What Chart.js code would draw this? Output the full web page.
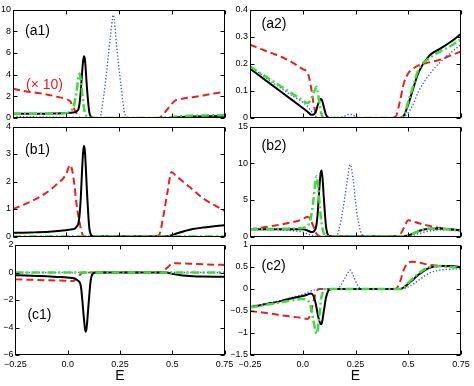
<!DOCTYPE html>
<html>
<head>
<meta charset="utf-8">
<script src="https://cdn.jsdelivr.net/npm/chart.js@4.4.1/dist/chart.umd.min.js"></script>
<style>
  html, body { margin: 0; padding: 0; background: #fff; }
  #wrap { position: relative; width: 474px; height: 386px; overflow: hidden; }
  #wrap canvas { position: absolute; top: 0; left: 0; }
</style>
</head>
<body>
<div id="wrap">
  <canvas id="a1" width="474" height="386"></canvas>
  <canvas id="a2" width="474" height="386"></canvas>
  <canvas id="b1" width="474" height="386"></canvas>
  <canvas id="b2" width="474" height="386"></canvas>
  <canvas id="c1" width="474" height="386"></canvas>
  <canvas id="c2" width="474" height="386"></canvas>
</div>
<script>
// energy grid shared by every curve
var E = [-0.25, -0.2, -0.15, -0.1, -0.05, 0,
         0.02, 0.03, 0.04, 0.05, 0.06, 0.065, 0.07,
         0.08, 0.085, 0.09, 0.1, 0.11, 0.12, 0.13, 0.14,
         0.16, 0.18, 0.2, 0.21, 0.225, 0.24, 0.25, 0.26, 0.28,
         0.3, 0.35, 0.4, 0.44, 0.46, 0.48,
         0.5, 0.52, 0.55, 0.6, 0.65, 0.7, 0.75];

var xTicks = [-0.25, 0, 0.25, 0.5, 0.75];
var xLabels = ['\u22120.25', '0.0', '0.25', '0.5', '0.75'];

//(a1)####################################################
var a1Black = [0.4, 0.4, 0.4, 0.4, 0.42, 0.45,
  0.48, 0.5, 0.52, 0.6, 0.85, 1.4, 2.4,
  5.0, 5.7, 5.4, 2.7, 0.64, 0.07, 0.01, 0,
  0, 0, 0, 0, 0, 0, 0, 0, 0,
  0, 0, 0, 0, 0, 0.01,
  0.04, 0.07, 0.1, 0.13, 0.15, 0.17, 0.18];
var a1Green = [0.4, 0.4, 0.4, 0.4, 0.4, 0.45,
  0.6, 0.8, 1.3, 2.4, 3.8, 4.1, 3.6,
  1.8, 1.0, 0.5, 0.1, 0.02, 0, 0, 0,
  0, 0, 0, 0, 0, 0, 0, 0, 0,
  0, 0, 0, 0, 0.02, 0.05,
  0.1, 0.14, 0.18, 0.22, 0.24, 0.25, 0.26];
var a1Blue = [0.15, 0.13, 0.11, 0.09, 0.07, 0.06,
  0.05, 0.05, 0.04, 0.03, 0.02, 0.02, 0.01,
  0.01, 0.01, 0.01, 0, 0, 0, 0, 0,
  0.05, 2.2, 5.6, 7.4, 9.5, 6.6, 4.8, 3.1, 0.3,
  0, 0, 0, 0, 0, 0,
  0.02, 0.04, 0.07, 0.12, 0.16, 0.19, 0.21];
var a1Red = [2.7, 2.5, 2.35, 2.2, 2.0, 1.75,
  1.55, 1.2, 0.8, 0.45, 0.15, 0.05, 0,
  0, 0, 0, 0, 0, 0, 0, 0,
  0, 0, 0, 0, 0, 0, 0, 0, 0,
  0, 0, 0, 0, 0.35, 0.8,
  1.3, 1.65, 1.78, 1.92, 2.08, 2.25, 2.4];

//(a2)####################################################
var a2Black = [0.182, 0.153, 0.124, 0.095, 0.066, 0.037,
  0.025, 0.018, 0.012, 0.012, 0.02, 0.03, 0.045,
  0.065, 0.07, 0.068, 0.04, 0.012, 0.002, 0, 0,
  0, 0, 0, 0, 0, 0, 0, 0, 0,
  0, 0, 0, 0, 0, 0.01,
  0.05, 0.1, 0.17, 0.23, 0.255, 0.28, 0.31];
var a2Green = [0.19, 0.165, 0.14, 0.115, 0.09, 0.065,
  0.055, 0.058, 0.07, 0.09, 0.108, 0.115, 0.1,
  0.05, 0.025, 0.012, 0, 0, 0, 0, 0,
  0, 0, 0, 0, 0, 0, 0, 0, 0,
  0, 0, 0, 0, 0, 0.01,
  0.06, 0.11, 0.18, 0.22, 0.245, 0.265, 0.29];
var a2Blue = [0.19, 0.162, 0.135, 0.108, 0.082, 0.058,
  0.045, 0.035, 0.025, 0.015, 0.008, 0.005, 0.003,
  0, 0, 0, 0, 0, 0, 0, 0,
  0, 0.003, 0.008, 0.012, 0.014, 0.01, 0.005, 0.002, 0,
  0, 0, 0, 0, 0, 0.005,
  0.02, 0.045, 0.1, 0.16, 0.205, 0.24, 0.27];
var a2Red = [0.27, 0.255, 0.24, 0.225, 0.205, 0.18,
  0.17, 0.15, 0.11, 0.06, 0.02, 0.005, 0,
  0, 0, 0, 0, 0, 0, 0, 0,
  0, 0, 0, 0, 0, 0, 0, 0, 0,
  0, 0, 0, 0.005, 0.06, 0.13,
  0.165, 0.18, 0.195, 0.205, 0.215, 0.23, 0.245];

//(b1)####################################################
var b1Black = [0.14, 0.14, 0.15, 0.16, 0.19, 0.23,
  0.25, 0.26, 0.28, 0.35, 0.5, 0.8, 1.35,
  2.9, 3.3, 3.1, 1.6, 0.37, 0.05, 0.01, 0,
  0, 0, 0, 0, 0, 0, 0, 0, 0,
  0, 0, 0, 0, 0, 0.01,
  0.05, 0.1, 0.17, 0.27, 0.33, 0.37, 0.41];
var b1Green = [0, 0, 0, 0, 0, 0,
  0, 0, 0, 0, 0, 0, 0,
  0, 0, 0, 0, 0, 0, 0, 0,
  0, 0, 0, 0, 0, 0, 0, 0, 0,
  0, 0, 0, 0, 0, 0,
  0, 0, 0, 0, 0, 0, 0];
var b1Blue = [0, 0, 0, 0, 0, 0,
  0, 0, 0, 0, 0, 0, 0,
  0, 0, 0, 0, 0, 0, 0, 0,
  0, 0, 0, 0, 0, 0, 0, 0, 0,
  0, 0, 0, 0, 0, 0,
  0, 0, 0, 0, 0, 0, 0];
var b1Red = [1.0, 1.15, 1.33, 1.55, 1.85, 2.25,
  2.6, 2.4, 1.9, 1.2, 0.7, 0.5, 0.3,
  0.05, 0, 0, 0, 0, 0, 0, 0,
  0, 0, 0, 0, 0, 0, 0, 0, 0,
  0, 0, 0, 0.05, 0.7, 1.6,
  2.35, 2.21, 2.02, 1.7, 1.38, 1.15, 0.93];

//(b2)####################################################
var b2Black = [1.0, 1.0, 1.0, 1.0, 1.0, 0.98,
  0.85, 0.72, 0.62, 0.65, 1.0, 1.6, 2.9,
  7.1, 8.7, 9.0, 5.2, 1.44, 0.19, 0.02, 0,
  0, 0, 0, 0, 0, 0, 0, 0, 0,
  0, 0, 0, 0, 0, 0.03,
  0.15, 0.35, 0.75, 1.05, 1.1, 1.0, 0.85];
var b2Green = [1.0, 1.0, 1.02, 1.05, 1.1, 1.15,
  1.4, 1.8, 2.8, 4.8, 7.4, 8.2, 7.6,
  4.5, 2.8, 1.6, 0.4, 0.08, 0.01, 0, 0,
  0, 0, 0, 0, 0, 0, 0, 0, 0,
  0, 0, 0, 0, 0, 0.03,
  0.15, 0.35, 0.7, 1.05, 1.05, 0.95, 0.75];
var b2Blue = [0.95, 0.95, 0.95, 0.9, 0.8, 0.6,
  0.4, 0.3, 0.2, 0.12, 0.06, 0.04, 0.03,
  0.02, 0.01, 0.01, 0, 0, 0, 0, 0,
  0.1, 2.0, 5.5, 7.5, 9.8, 7.5, 4.8, 2.6, 0.3,
  0, 0, 0, 0, 0, 0.02,
  0.05, 0.15, 0.4, 0.75, 0.9, 0.92, 0.9];
var b2Red = [1.0, 1.2, 1.4, 1.65, 1.95, 2.35,
  2.65, 2.6, 2.1, 1.4, 0.7, 0.4, 0.2,
  0.02, 0, 0, 0, 0, 0, 0, 0,
  0, 0, 0, 0, 0, 0, 0, 0, 0,
  0, 0, 0, 0, 0.2, 1.2,
  2.2, 2.1, 1.8, 1.45, 1.15, 0.95, 0.8];

//(c1)####################################################
var c1Black = [-0.2, -0.22, -0.25, -0.28, -0.32, -0.36,
  -0.4, -0.42, -0.5, -0.6, -0.8, -1.2, -2.0,
  -3.7, -4.3, -4.1, -2.3, -0.6, -0.08, -0.01, 0,
  0, 0, 0, 0, 0, 0, 0, 0, 0,
  0, 0, 0, 0, 0, -0.02,
  -0.1, -0.15, -0.22, -0.27, -0.29, -0.3, -0.3];
var c1Green = [0, 0, 0, 0, 0, 0,
  0, 0, 0, 0, 0, 0, 0,
  0, 0, 0, 0, 0, 0, 0, 0,
  0, 0, 0, 0, 0, 0, 0, 0, 0,
  0, 0, 0, 0, 0, 0,
  0, 0, 0, 0, 0, 0, 0];
var c1Blue = [0, 0, 0, 0, 0, 0,
  0, 0, 0, 0, 0, 0, 0,
  0, 0, 0, 0, 0, 0, 0, 0,
  0, 0, 0, 0, 0, 0, 0, 0, 0,
  0, 0, 0, 0, 0, 0,
  0, 0, 0, 0, 0, 0, 0];
var c1Red = [-0.5, -0.52, -0.54, -0.56, -0.58, -0.6,
  -0.62, -0.6, -0.45, -0.3, -0.15, -0.08, -0.03,
  0, 0, 0, 0, 0, 0, 0, 0,
  0, 0, 0, 0, 0, 0, 0, 0, 0,
  0, 0, 0, 0, 0.15, 0.4,
  0.65, 0.67, 0.66, 0.63, 0.6, 0.57, 0.55];

//(c2)####################################################
var c2Black = [-0.41, -0.37, -0.32, -0.27, -0.21, -0.16,
  -0.13, -0.11, -0.1, -0.15, -0.3, -0.42, -0.55,
  -0.75, -0.8, -0.78, -0.5, -0.2, -0.05, -0.01, 0,
  0, 0, 0, 0, 0, 0, 0, 0, 0,
  0, 0, 0, 0, 0, 0.04,
  0.12, 0.2, 0.33, 0.48, 0.52, 0.52, 0.5];
var c2Green = [-0.42, -0.38, -0.34, -0.3, -0.26, -0.23,
  -0.25, -0.3, -0.45, -0.7, -0.95, -1.02, -0.95,
  -0.55, -0.3, -0.15, -0.03, 0, 0, 0, 0,
  0, 0, 0, 0, 0, 0, 0, 0, 0,
  0, 0, 0, 0, 0, 0.04,
  0.14, 0.23, 0.36, 0.5, 0.52, 0.5, 0.48];
var c2Blue = [-0.4, -0.36, -0.31, -0.26, -0.19, -0.12,
  -0.08, -0.06, -0.04, -0.03, -0.02, -0.02, -0.01,
  0, 0, 0, 0, 0, 0, 0, 0,
  0, 0.08, 0.25, 0.33, 0.43, 0.3, 0.18, 0.08, 0,
  0, 0, 0, 0, 0, 0.01,
  0.05, 0.1, 0.2, 0.36, 0.43, 0.45, 0.46];
var c2Red = [-0.5, -0.53, -0.56, -0.6, -0.63, -0.66,
  -0.68, -0.65, -0.5, -0.3, -0.12, -0.06, -0.02,
  0, 0, 0, 0, 0, 0, 0, 0,
  0, 0, 0, 0, 0, 0, 0, 0, 0,
  0, 0, 0, 0, 0.15, 0.45,
  0.6, 0.62, 0.6, 0.55, 0.53, 0.51, 0.5];

var FONT = "'Liberation Sans', Arial, Helvetica, sans-serif";

var styles = {
  black: { color: '#000000', width: 2, dash: [] },
  red:   { color: '#e82020', width: 2, dash: [7, 4] },
  green: { color: '#3ddc3d', width: 2.5, dash: [8, 3, 2, 3] },
  blue:  { color: '#4a50e0', width: 1.4, dash: [1.3, 2] }
};

function line(ys, kind) {
  var s = styles[kind];
  return {
    data: E.map(function(e, i) { return { x: e, y: ys[i] }; }),
    borderColor: s.color,
    borderWidth: s.width,
    borderDash: s.dash,
    pointRadius: 0,
    fill: false,
    cubicInterpolationMode: 'monotone'
  };
}

function fmt(v) {
  return String(v).replace('-', '\u2212');
}

var panelById = {};

// box + inward ticks on all four sides, plus panel texts
var framePlugin = {
  id: 'frame',
  afterDatasetsDraw: function(chart) {
    var p = panelById[chart.canvas.id];
    if (!p) return;
    var ctx = chart.ctx, a = chart.chartArea;
    var xs = chart.scales.x, ys = chart.scales.y;
    var L = Math.round(a.left) + 0.5, R = Math.round(a.right) - 0.5;
    var T = Math.round(a.top) + 0.5, B = Math.round(a.bottom) - 0.5;
    ctx.save();
    ctx.strokeStyle = '#000';
    ctx.lineWidth = 1;
    ctx.strokeRect(L, T, R - L, B - T);
    ctx.beginPath();
    xTicks.forEach(function(v) {
      var px = Math.round(xs.getPixelForValue(v)) + 0.5;
      ctx.moveTo(px, B); ctx.lineTo(px, B - 4);
      ctx.moveTo(px, T); ctx.lineTo(px, T + 4);
    });
    p.yTicks.forEach(function(v) {
      var py = Math.round(ys.getPixelForValue(v)) + 0.5;
      ctx.moveTo(L, py); ctx.lineTo(L + 4, py);
      ctx.moveTo(R, py); ctx.lineTo(R - 4, py);
    });
    ctx.stroke();
    ctx.font = '14px ' + FONT;
    ctx.textBaseline = 'middle';
    ctx.fillStyle = '#000';
    ctx.fillText(p.label, a.left + p.lx, p.ly);
    if (p.note) {
      ctx.fillStyle = '#e82020';
      ctx.fillText(p.note, a.left + p.nx, p.ny);
    }
    ctx.restore();
  }
};

// col 0 = left column (plot x 13..224.5), col 1 = right column (plot x 250..461)
var panels = [
  { id: 'a1', col: 0, label: '(a1)', lx: 12, ly: 31.5, top: 9.5, bottom: 268, showX: false,
    yMin: 0, yMax: 10, yTicks: [0, 2, 4, 6, 8, 10],
    note: '(\u00d7 10)', nx: 13, ny: 85,
    black: a1Black, green: a1Green, blue: a1Blue, red: a1Red },
  { id: 'a2', col: 1, label: '(a2)', lx: 11.5, ly: 24.5, top: 9.5, bottom: 268, showX: false,
    yMin: 0, yMax: 0.4, yTicks: [0, 0.1, 0.2, 0.3, 0.4],
    black: a2Black, green: a2Green, blue: a2Blue, red: a2Red },
  { id: 'b1', col: 0, label: '(b1)', lx: 12, ly: 150, top: 126.5, bottom: 149.5, showX: false,
    yMin: 0, yMax: 4, yTicks: [0, 1, 2, 3, 4],
    black: b1Black, green: b1Green, blue: b1Blue, red: b1Red },
  { id: 'b2', col: 1, label: '(b2)', lx: 11.5, ly: 146, top: 126.5, bottom: 149.5, showX: false,
    yMin: 0, yMax: 15, yTicks: [0, 5, 10, 15],
    black: b2Black, green: b2Green, blue: b2Blue, red: b2Red },
  { id: 'c1', col: 0, label: '(c1)', lx: 12, ly: 315, top: 245, bottom: 0, showX: true,
    yMin: -6, yMax: 2, yTicks: [-6, -4, -2, 0, 2],
    black: c1Black, green: c1Green, blue: c1Blue, red: c1Red },
  { id: 'c2', col: 1, label: '(c2)', lx: 11.5, ly: 266, top: 245, bottom: 0, showX: true,
    yMin: -1.5, yMax: 1, yTicks: [-1.5, -1, -0.5, 0, 0.5, 1],
    black: c2Black, green: c2Green, blue: c2Blue, red: c2Red }
];

function makePanel(p) {
  panelById[p.id] = p;
  // y axis box is 13px wide on the left, 30px on the right so its labels are not clipped
  var yW = p.col ? 30 : 13;
  var padL = p.col ? 250 - yW : 0;
  var padR = p.col ? 13 : 249.5;
  new Chart(document.getElementById(p.id), {
    type: 'line',
    data: {
      // first dataset is painted last (on top)
      datasets: [line(p.green, 'green'), line(p.black, 'black'), line(p.blue, 'blue'), line(p.red, 'red')]
    },
    options: {
      responsive: false,
      animation: false,
      devicePixelRatio: 1,
      layout: { autoPadding: false, padding: { left: padL, right: padR, top: p.top, bottom: p.bottom } },
      plugins: { legend: { display: false }, tooltip: { enabled: false } },
      scales: {
        x: {
          type: 'linear', min: -0.25, max: 0.75,
          grid: { display: false, drawTicks: false, tickLength: 0 },
          border: { display: false },
          afterBuildTicks: function(s) { s.ticks = xTicks.map(function(v) { return { value: v }; }); },
          afterFit: function(s) { s.height = p.showX ? 31 : 0; },
          ticks: {
            display: p.showX, padding: 4, color: '#000', maxRotation: 0, autoSkip: false,
            font: { family: FONT, size: 9 },
            callback: function(v, i) { return xLabels[i]; }
          },
          title: { display: p.showX, text: 'E', color: '#000', font: { family: FONT, size: 14 }, padding: { top: 0, bottom: 1.5 } }
        },
        y: {
          type: 'linear', min: p.yMin, max: p.yMax,
          grid: { display: false, drawTicks: false, tickLength: 0 },
          border: { display: false },
          afterBuildTicks: function(s) { s.ticks = p.yTicks.map(function(v) { return { value: v }; }); },
          afterFit: function(s) { s.width = yW; },
          ticks: {
            padding: 2, color: '#000',
            font: { family: FONT, size: 9 },
            callback: function(v) { return fmt(v); }
          }
        }
      }
    },
    plugins: [framePlugin]
  });
}

panels.forEach(makePanel);
</script>
</body>
</html>
